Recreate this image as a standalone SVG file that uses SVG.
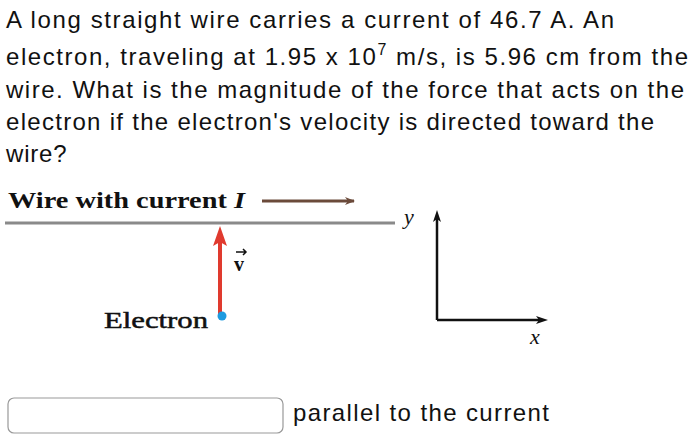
<svg xmlns="http://www.w3.org/2000/svg" width="700" height="446" viewBox="0 0 700 446">
<style>
.q{font-family:"Liberation Sans",Arial,sans-serif;font-size:24px;fill:#111}
.s{font-family:"Liberation Serif","Times New Roman",serif;fill:#111}
</style>
<defs>
<marker id="ab" markerWidth="10" markerHeight="8" refX="9" refY="4" orient="auto" markerUnits="userSpaceOnUse"><path d="M0,0 L10,4 L0,8 L3,4 Z" fill="#6b4a3a"/></marker>
</defs>
<rect width="700" height="446" fill="#fff"/>
<g id="question">
<text class="q" x="6" y="28" textLength="608" lengthAdjust="spacing">A long straight wire carries a current of 46.7 A. An</text>
<text class="q" x="6" y="65" textLength="682" lengthAdjust="spacing">electron, traveling at 1.95 x 10<tspan dy="-10" font-size="16">7</tspan><tspan dy="10"> m/s, is 5.96 cm from the</tspan></text>
<text class="q" x="6" y="98" textLength="678" lengthAdjust="spacing">wire. What is the magnitude of the force that acts on the</text>
<text class="q" x="6" y="130" textLength="648" lengthAdjust="spacing">electron if the electron's velocity is directed toward the</text>
<text class="q" x="6" y="162" letter-spacing="0.8">wire?</text>
</g>
<g id="wire">
<line x1="5" y1="223" x2="395" y2="223" stroke="#8a8a8a" stroke-width="3"/>
<text class="s" x="8" y="208" font-size="23" font-weight="bold" textLength="237" lengthAdjust="spacingAndGlyphs">Wire with current <tspan font-style="italic">I</tspan></text>
</g>
<g id="connectors">
<line x1="262" y1="201" x2="354" y2="201" stroke="#6b4a3a" stroke-width="3" marker-end="url(#ab)"/>
<line x1="220" y1="316" x2="220" y2="240" stroke="#e03a2e" stroke-width="4"/>
<path d="M220,226 L227,246 L220,242 L213,246 Z" fill="#e03a2e"/>
<line x1="437" y1="320" x2="437" y2="216" stroke="#111" stroke-width="2.5"/>
<path d="M437,210 L441,222 L437,219 L433,222 Z" fill="#111"/>
<line x1="437" y1="320" x2="542" y2="320" stroke="#111" stroke-width="2.5"/>
<path d="M548,320 L536,324 L539,320 L536,316 Z" fill="#111"/>
</g>
<g id="electron">
<circle cx="222" cy="316" r="4.5" fill="#1e9be0"/>
<text class="s" x="104" y="328" font-size="24" stroke="#111" stroke-width="0.5" textLength="104" lengthAdjust="spacingAndGlyphs">Electron</text>
<text class="s" x="234" y="271" font-size="20" font-weight="bold">v</text>
<path d="M236,252 L246,252 M243,249 L246,252 L243,255" stroke="#111" stroke-width="1.5" fill="none"/>
</g>
<g id="axes">
<text class="s" x="404" y="224" font-size="22" font-style="italic">y</text>
<text class="s" x="530" y="344" font-size="22" font-style="italic">x</text>
</g>
<g id="answer">
<rect x="8" y="398" width="275" height="35" rx="6" fill="#fff" stroke="#999" stroke-width="1.2"/>
<text class="q" x="293" y="421" textLength="256" lengthAdjust="spacing">parallel to the current</text>
</g>
</svg>
